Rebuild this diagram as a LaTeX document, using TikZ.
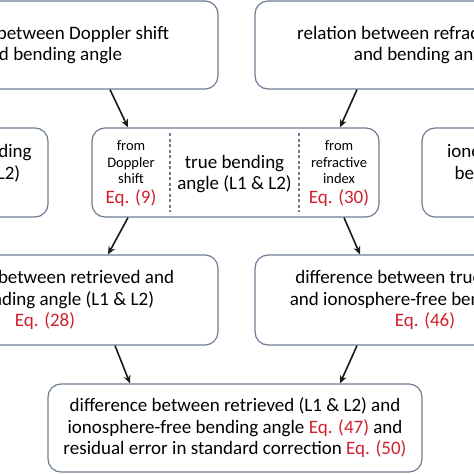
\documentclass[tikz,border=0pt]{standalone}
\usepackage{fontspec}
\setmainfont{Carlito}
\usetikzlibrary{arrows.meta}
\definecolor{boxline}{RGB}{110,124,146}
\definecolor{eqred}{RGB}{208,32,44}
\newcommand{\eqref}[1]{\textcolor{eqred}{Eq. (#1)}}
\newcommand{\bigtext}[0]{\fontsize{19}{21.5}\selectfont}
\newcommand{\smalltext}[0]{\fontsize{14.5}{16.5}\selectfont}

\begin{document}
\begin{tikzpicture}[x=1pt, y=-1pt]
  \tikzset{stepbox/.style={draw=boxline, line width=1.2pt, rounded corners=13pt,
      inner sep=0pt, align=center, font=\bigtext},
    flow/.style={-{Stealth[length=8pt,width=7pt]}, line width=1.6pt, black!90}}
  \useasboundingbox (0,0) rectangle (474,474);
  \clip (0,0) rectangle (474,474);
  % top row
  \node[stepbox, minimum width=334pt, minimum height=88pt] (dop) at (51,45)
    {relation between Doppler shift\\and bending angle};
  \node[stepbox, minimum width=340pt, minimum height=88pt] (refr) at (425,45)
    {relation between refractive index\\and bending angle};
  % middle row
  \node[stepbox, minimum width=170pt, minimum height=89pt] (ret) at (-37,172.5)
    {retrieved bending\\angle (L1 \& L2)\\\mbox{}};
  \node[stepbox, minimum width=287pt, minimum height=89pt] (mid) at (235.5,172.5) {};
  \node[stepbox, minimum width=174pt, minimum height=89pt] (iono) at (509,172.5)
    {ionosphere-free\\bending angle\\\mbox{}};
  \node[align=center, font=\smalltext] (fromdop) at (131,162.5)
    {from\\Doppler\\shift};
  \node[font=\bigtext, anchor=base] (eqdop) at (131,203) {\eqref{9}};
  \node[align=center, font=\bigtext] (truebend) at (234.5,174)
    {true bending\\angle (L1 \& L2)};
  \node[align=center, font=\smalltext] (fromref) at (339,162.5)
    {from\\refractive\\index};
  \node[font=\bigtext, anchor=base] (eqref) at (339,203) {\eqref{30}};
  \draw[boxline, line width=1.1pt, dash pattern=on 3pt off 2.5pt]
    (170,133) -- (170,212) (299,133) -- (299,212);
  % third row
  \node[stepbox, minimum width=346pt, minimum height=90pt] (diffret) at (45,300)
    {difference between retrieved and\\true bending angle (L1 \& L2)\\\eqref{28}};
  \node[stepbox, minimum width=340pt, minimum height=90pt] (difftrue) at (425,300)
    {difference between true (L1 \& L2)\\and ionosphere-free bending angle\\\eqref{46}};
  % bottom
  \node[stepbox, minimum width=374pt, minimum height=88pt] (final) at (235,428)
    {difference between retrieved (L1 \& L2) and\\ionosphere-free bending angle \eqref{47} and\\residual error in standard correction \eqref{50}};
  \draw[flow] ([xshift=59pt]dop.south) -- ([xshift=-107.5pt]mid.north);
  \draw[flow] ([xshift=-68pt]refr.south) -- ([xshift=104.5pt]mid.north);
  \draw[flow] ([xshift=-107.5pt]mid.south) -- ([xshift=63pt]diffret.north);
  \draw[flow] ([xshift=108.5pt]mid.south) -- ([xshift=-65pt]difftrue.north);
  \draw[flow] ([xshift=70pt]diffret.south) -- ([xshift=-105pt]final.north);
  \draw[flow] ([xshift=-68pt]difftrue.south) -- ([xshift=105pt]final.north);
\end{tikzpicture}
\end{document}
